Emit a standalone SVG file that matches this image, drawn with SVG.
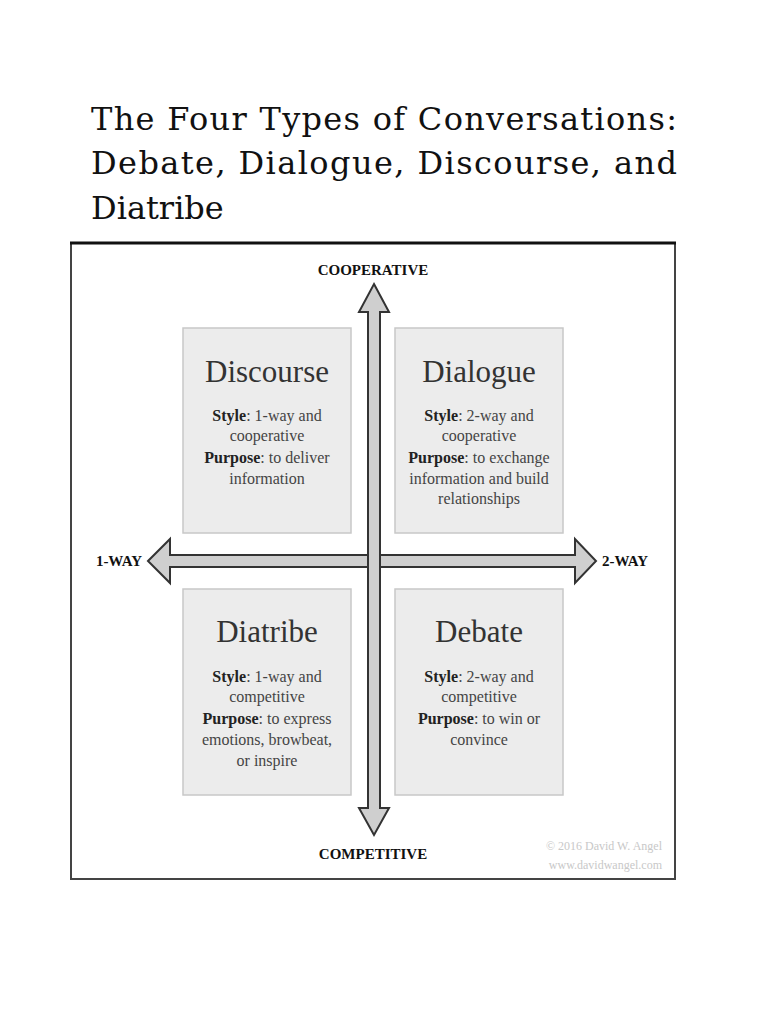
<svg xmlns="http://www.w3.org/2000/svg" width="768" height="1024" viewBox="0 0 768 1024">
<style>
.t{font-family:"DejaVu Serif","Liberation Serif",serif;font-size:32px;fill:#111}
.ax{font-family:"Liberation Serif",serif;font-size:15px;font-weight:bold;fill:#111}
.h{font-family:"Liberation Serif",serif;font-size:31px;fill:#333;text-anchor:middle}
.b{font-family:"Liberation Serif",serif;font-size:16px;fill:#444;text-anchor:middle}
.b tspan.k{font-weight:bold;fill:#222}
.box{fill:#ececec;stroke:#c8c8c8;stroke-width:1.5}
.arr{fill:#cfcfcf;stroke:#333;stroke-width:2;stroke-linejoin:miter}
.c{font-family:"Liberation Serif",serif;font-size:12px;fill:#c8c8c8;text-anchor:end}
</style>
<rect width="768" height="1024" fill="#fff"/>
<text class="t" x="91" y="130" textLength="586" lengthAdjust="spacing">The Four Types of Conversations:</text>
<text class="t" x="91" y="174" textLength="586" lengthAdjust="spacing">Debate, Dialogue, Discourse, and</text>
<text class="t" x="91" y="219">Diatribe</text>
<rect x="71" y="243" width="604" height="636" fill="#fff" stroke="#444" stroke-width="2"/>
<line x1="70" y1="243" x2="676" y2="243" stroke="#111" stroke-width="3"/>
<g id="connectors">
<polygon class="arr" points="148,561 170,539 170,555 575,555 575,539 596,561 575,583 575,567 170,567 170,583"/>
<polygon class="arr" points="374,284 389,312 380,312 380,808 389,808 374,835 359,808 368,808 368,312 359,312"/>
<line x1="368" y1="555" x2="368" y2="567" stroke="#333" stroke-width="2"/>
<line x1="380" y1="555" x2="380" y2="567" stroke="#333" stroke-width="2"/>
</g>
<text class="ax" x="373" y="275" text-anchor="middle">COOPERATIVE</text>
<text class="ax" x="373" y="859" text-anchor="middle">COMPETITIVE</text>
<text class="ax" x="142" y="566" text-anchor="end">1-WAY</text>
<text class="ax" x="602" y="566">2-WAY</text>
<g id="discourse">
<rect class="box" x="183" y="328" width="168" height="205"/>
<text class="h" x="267" y="382">Discourse</text>
<text class="b" x="267" y="421"><tspan class="k">Style</tspan>: 1-way and</text>
<text class="b" x="267" y="441">cooperative</text>
<text class="b" x="267" y="463"><tspan class="k">Purpose</tspan>: to deliver</text>
<text class="b" x="267" y="484">information</text>
</g>
<g id="dialogue">
<rect class="box" x="395" y="328" width="168" height="205"/>
<text class="h" x="479" y="382">Dialogue</text>
<text class="b" x="479" y="421"><tspan class="k">Style</tspan>: 2-way and</text>
<text class="b" x="479" y="441">cooperative</text>
<text class="b" x="479" y="463"><tspan class="k">Purpose</tspan>: to exchange</text>
<text class="b" x="479" y="484">information and build</text>
<text class="b" x="479" y="504">relationships</text>
</g>
<g id="diatribe">
<rect class="box" x="183" y="589" width="168" height="206"/>
<text class="h" x="267" y="642">Diatribe</text>
<text class="b" x="267" y="682"><tspan class="k">Style</tspan>: 1-way and</text>
<text class="b" x="267" y="702">competitive</text>
<text class="b" x="267" y="724"><tspan class="k">Purpose</tspan>: to express</text>
<text class="b" x="267" y="745">emotions, browbeat,</text>
<text class="b" x="267" y="766">or inspire</text>
</g>
<g id="debate">
<rect class="box" x="395" y="589" width="168" height="206"/>
<text class="h" x="479" y="642">Debate</text>
<text class="b" x="479" y="682"><tspan class="k">Style</tspan>: 2-way and</text>
<text class="b" x="479" y="702">competitive</text>
<text class="b" x="479" y="724"><tspan class="k">Purpose</tspan>: to win or</text>
<text class="b" x="479" y="745">convince</text>
</g>
<text class="c" x="662" y="850">© 2016 David W. Angel</text>
<text class="c" x="662" y="869">www.davidwangel.com</text>
</svg>
